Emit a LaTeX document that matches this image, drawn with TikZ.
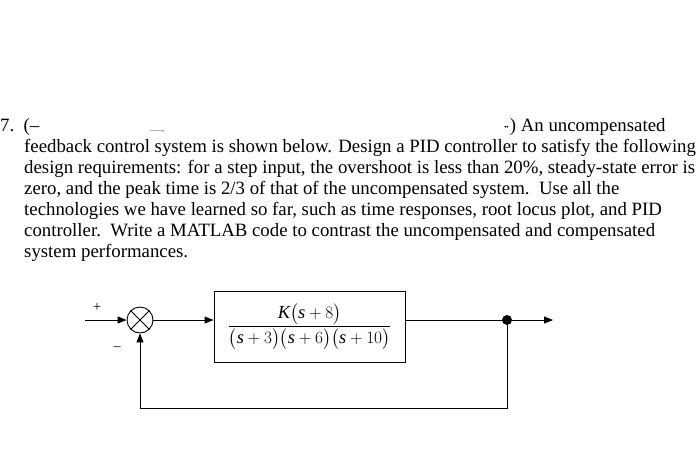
\documentclass[tikz,border=0pt]{standalone}
\usepackage{amsmath}
\usepackage{fontspec}
\setmainfont{Liberation Serif}
\usetikzlibrary{arrows.meta}
\newcommand{\vs}{\textit{s}}
\begin{document}
\begin{tikzpicture}[x=1pt,y=-1pt,
  txt/.style={anchor=base west,inner sep=0,font=\fontsize{18.8}{21}\selectfont},
  wire/.style={line width=0.9pt},
  arr/.style={wire,-{Triangle[length=9pt,width=7pt]}}]
\useasboundingbox (0,0) rectangle (700,448);
\node[txt] (l0) at (0,131) {7.\ \ (--};
\node[txt] (l0b) at (150,131) {\fontsize{8}{8}\selectfont ......,};
\node[txt] (l0c) at (503,131) {$\cdot\!\cdot$) An uncompensated};
\node[txt] (l1) at (24,152) {feedback control system is shown below. Design a PID controller to satisfy the following};
\node[txt] (l2) at (24,173) {design requirements: for a step input, the overshoot is less than 20\%, steady-state error is};
\node[txt] (l3) at (24,194) {zero, and the peak time is 2/3 of that of the uncompensated system.\ \ Use all the};
\node[txt] (l4) at (24,215) {technologies we have learned so far, such as time responses, root locus plot, and PID};
\node[txt] (l5) at (24,236) {controller.\ \ Write a MATLAB code to contrast the uncompensated and compensated};
\node[txt] (l6) at (24,257) {system performances.};
\node[draw,wire,circle,minimum size=26pt,inner sep=0] (sum) at (140,320) {};
\draw[wire] (sum.north west) -- (sum.south east) (sum.north east) -- (sum.south west);
\node[draw,wire,minimum width=191pt,minimum height=71pt,inner sep=0] (G) at (309.5,326.5)
  {\fontsize{18.5}{21}\selectfont $\dfrac{\textit{K}\big(\vs+8\big)}{\big(\vs+3\big)\big(\vs+6\big)\big(\vs+10\big)}$};
\coordinate (in) at (85,320);
\coordinate (out) at (553,320);
\fill (507,320) circle (5pt) coordinate (dot);
\coordinate (bl) at (507,408);
\coordinate (br) at (140,408);
\draw[arr] (in) -- (sum);
\draw[arr] (sum) -- (G.west |- sum);
\draw[arr] (G.east |- sum) -- (out);
\draw[arr] (dot) -- (bl) -- (br) -- (sum.south);
\node[font=\fontsize{14}{14}\selectfont] (plus) at (97,308) {+};
\node[font=\fontsize{14}{14}\selectfont] (minus) at (117,349) {--};
\end{tikzpicture}
\end{document}
